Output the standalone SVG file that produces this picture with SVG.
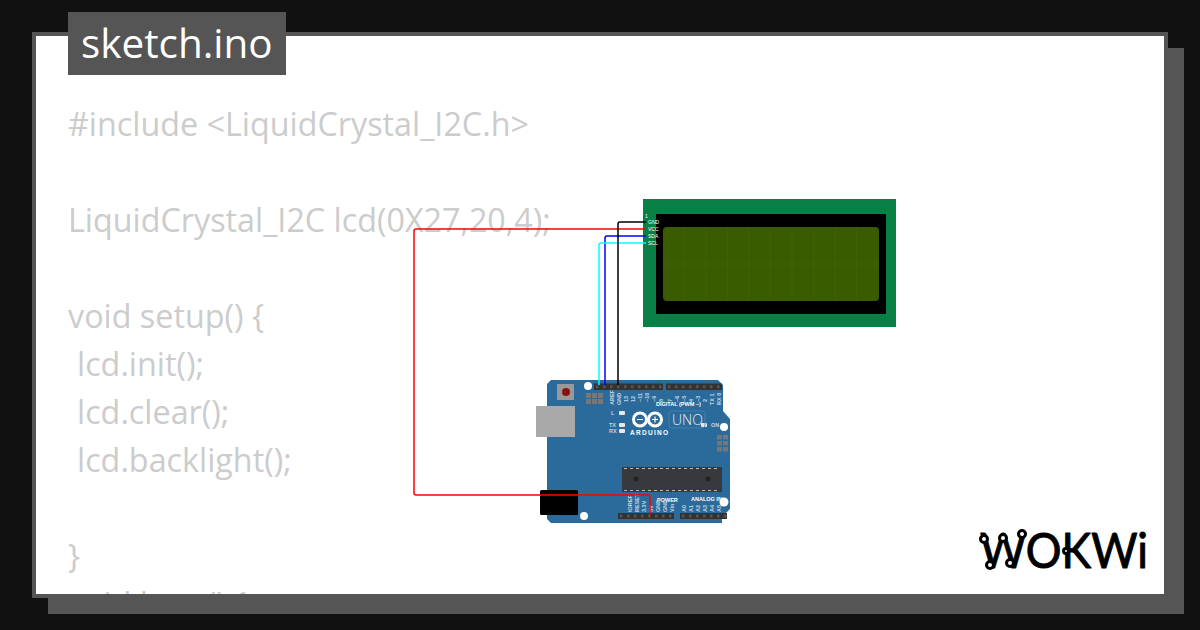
<svg xmlns="http://www.w3.org/2000/svg" width="1200" height="630" viewBox="0 0 1200 630">
<style>
.code{font-family:"Open Sans","Noto Sans",sans-serif;font-size:32.300px;fill:#ccc}
.pin{font-family:"Liberation Sans",Arial,sans-serif;font-size:5.500px;font-weight:700;fill:#c4d4e2}
.lcdpin{font-family:"Liberation Sans",Arial,sans-serif;font-size:5px;fill:#fff}
.hdr{fill:#333}
.pn{stroke:#555;stroke-width:3;stroke-dasharray:2.500 4.500;fill:none}
.ic{fill:#777}
.hole{fill:#fff}
.led{fill:#e8e8e8}
.w{fill:none;stroke-width:1.500;stroke-linejoin:round}
</style>
<defs><clipPath id="c"><rect x="36" y="36" width="1128" height="558"/></clipPath></defs>
<rect width="1200" height="630" fill="#111"/>
<rect x="48" y="48" width="1136" height="566" fill="#555"/>
<rect x="34" y="34" width="1132" height="562" fill="#fff" stroke="#555" stroke-width="4"/>
<g clip-path="url(#c)">
<text class="code" x="68" y="136">#include &lt;LiquidCrystal_I2C.h&gt;</text>
<text class="code" x="68" y="232">LiquidCrystal_I2C lcd(0X27,20,4);</text>
<text class="code" x="68" y="328">void setup() {</text>
<text class="code" x="77" y="376">lcd.init();</text>
<text class="code" x="77" y="424">lcd.clear();</text>
<text class="code" x="77" y="472">lcd.backlight();</text>
<text class="code" x="68" y="568">}</text>
<text class="code" x="68" y="616">void loop() {</text>
</g>
<g id="title"><rect x="68" y="12" width="218" height="63" fill="#555"/>
<text x="81" y="58" font-family="'Open Sans','Noto Sans',sans-serif" font-size="40.400" fill="#fff">sketch.ino</text></g>
<g id="lcd">
<rect x="643" y="199" width="253" height="128" fill="#087f45"/>
<rect x="656" y="214" width="230" height="100" fill="#000"/>
<rect x="663" y="227" width="216" height="74" rx="4" fill="#3a5c00"/>
<path d="M684.500 227V301M706 227V301M727.500 227V301M749 227V301M770.500 227V301M792 227V301M813.500 227V301M835 227V301M856.500 227V301M663 264H879" stroke="#3f6200" stroke-width="1"/>
<g class="lcdpin"><text x="645" y="218">1</text><text x="648" y="223.500">GND</text><text x="648" y="231">VCC</text><text x="648" y="238">SDA</text><text x="648" y="245">SCL</text></g>
</g>
<g id="arduino">
<path d="M551 380H718L723 385V411L730 419V509L722 517V523H551L547 519V384Z" fill="#2b6b9b"/>
<rect x="536" y="406" width="39" height="31" fill="#a9a9a9"/>
<rect x="557" y="384" width="17" height="16" fill="#999"/><circle cx="566" cy="392" r="4" fill="#8c1111"/>
<rect class="hdr" x="594" y="383.500" width="69" height="6.500"/><rect class="hdr" x="666" y="383.500" width="56" height="6.500"/>
<rect class="hdr" x="618" y="513" width="56" height="6"/><rect class="hdr" x="680" y="513" width="47" height="6"/>
<path class="pn" d="M596 386.800H663M668 386.800H722M620 516H674M682 516H727"/>
<rect x="622" y="467" width="100" height="25" fill="#37393c"/>
<path d="M624 468.500H720M624 490.500H720" stroke="#bbb" stroke-width="1.200" stroke-dasharray="3 3"/>
<circle cx="636" cy="479" r="2.500" fill="#222"/><circle cx="708" cy="479" r="2.500" fill="#222"/>
<circle class="hole" cx="588" cy="386" r="4"/><circle class="hole" cx="584" cy="516" r="4"/><circle class="hole" cx="724" cy="502" r="4.500"/><circle class="hole" cx="724" cy="427" r="4"/>
<g class="ic"><rect x="586" y="393" width="5" height="5"/><rect x="592" y="393" width="5" height="5"/><rect x="598" y="393" width="5" height="5"/><rect x="586" y="399" width="5" height="5"/><rect x="592" y="399" width="5" height="5"/><rect x="598" y="399" width="5" height="5"/>
<rect x="717" y="435" width="5" height="4.500"/><rect x="723" y="435" width="5" height="4.500"/><rect x="717" y="441" width="5" height="4.500"/><rect x="723" y="441" width="5" height="4.500"/><rect x="717" y="447" width="5" height="4.500"/><rect x="723" y="447" width="5" height="4.500"/></g>
<rect class="led" x="619" y="411" width="6" height="4" rx="1"/><rect class="led" x="619" y="423" width="6" height="4" rx="1"/><rect class="led" x="619" y="429" width="6" height="4" rx="1"/><rect class="led" x="701" y="423" width="6" height="4" rx="1"/>
<g fill="none" stroke="#fff" stroke-width="3"><circle cx="640" cy="419.500" r="6.500"/><circle cx="655" cy="419.500" r="6.500"/></g>
<path d="M637 419.500H643M652 419.500H658M655 416.500V422.500" stroke="#fff" stroke-width="1.200"/>
<rect x="669" y="411" width="36" height="17" rx="3" fill="none" stroke="#4d86b0" stroke-width=".8"/>
<text x="672" y="424.500" font-family="'Open Sans',sans-serif" font-weight="300" font-size="15" fill="#e6eef5" textLength="31" lengthAdjust="spacingAndGlyphs">UNO</text>
<text x="630" y="435" font-family="'Liberation Sans',sans-serif" font-size="6.500" font-weight="700" fill="#fff" textLength="38">ARDUINO</text>
<text class="pin" x="656" y="406" style="fill:#fff">DIGITAL (PWM ~)</text>
<text class="pin" x="611" y="415">L</text><text class="pin" x="609" y="427">TX</text><text class="pin" x="609" y="433">RX</text><text class="pin" x="711" y="427">ON</text>
<text class="pin" x="657" y="502" style="fill:#fff">POWER</text><text class="pin" x="691" y="501" style="fill:#fff">ANALOG IN</text>
<g class="pin">
<text transform="translate(614,405) rotate(-90)">AREF</text><text transform="translate(621,405) rotate(-90)">GND</text><text transform="translate(628,402) rotate(-90)">13</text><text transform="translate(635,402) rotate(-90)">12</text><text transform="translate(642,402) rotate(-90)">~11</text><text transform="translate(649,402) rotate(-90)">~10</text><text transform="translate(656,402) rotate(-90)">~9</text><text transform="translate(663,402) rotate(-90)">8</text>
<text transform="translate(672,402) rotate(-90)">7</text><text transform="translate(679,402) rotate(-90)">~6</text><text transform="translate(686,402) rotate(-90)">~5</text><text transform="translate(693,402) rotate(-90)">4</text><text transform="translate(700,402) rotate(-90)">~3</text><text transform="translate(707,402) rotate(-90)">2</text><text transform="translate(714,405) rotate(-90)">TX 1</text><text transform="translate(721,405) rotate(-90)">RX 0</text>
<text transform="translate(632,512) rotate(-90)">IOREF</text><text transform="translate(639,512) rotate(-90)">RESET</text><text transform="translate(646,512) rotate(-90)">3.3V</text><text transform="translate(653,512) rotate(-90)">5V</text><text transform="translate(660,512) rotate(-90)">GND</text><text transform="translate(667,512) rotate(-90)">GND</text><text transform="translate(674,512) rotate(-90)">Vin</text>
<text transform="translate(686,512) rotate(-90)">A0</text><text transform="translate(693,512) rotate(-90)">A1</text><text transform="translate(700,512) rotate(-90)">A2</text><text transform="translate(707,512) rotate(-90)">A3</text><text transform="translate(714,512) rotate(-90)">A4</text><text transform="translate(721,512) rotate(-90)">A5</text>
</g>
<rect x="540" y="490" width="38" height="25" rx="1.500" fill="#000"/>
</g>
<g id="connectors" class="w">
<path d="M650 515V497Q650 495 648 495H416Q414 495 414 493V231Q414 229 416 229H646" stroke="#f00"/>
<path d="M605 385V238Q605 236 607 236H646" stroke="#00f"/>
<path d="M599 385V245Q599 243 601 243H646" stroke="#0ff"/>
<path d="M618 385V224Q618 222 620 222H646" stroke="#000"/>
</g>
<g id="wokwi">
<text x="980" y="568" font-family="Lato,sans-serif" font-size="48" fill="#000" stroke="#000" stroke-width="1" stroke-linejoin="round" textLength="168" lengthAdjust="spacingAndGlyphs">WOKWi</text>
<g fill="#fff" stroke="#000" stroke-width="3"><circle cx="984" cy="539" r="3.500"/><circle cx="1003" cy="538" r="3.500"/><circle cx="1022" cy="534" r="3.500"/><circle cx="990" cy="565" r="3.500"/><circle cx="1010" cy="563" r="3.500"/><circle cx="1066" cy="551" r="2.500"/></g>
</g>
</svg>
